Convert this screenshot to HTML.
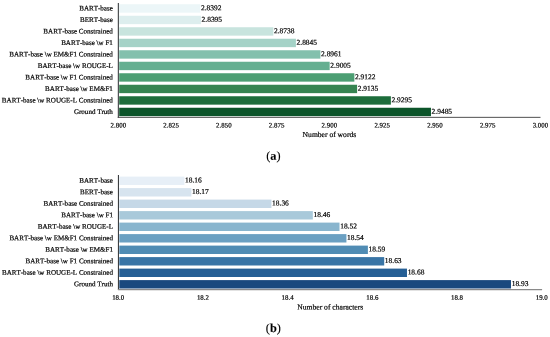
<!DOCTYPE html>
<html><head><meta charset="utf-8"><title>Figure</title>
<style>
html,body{margin:0;padding:0;background:#fff;}
body{width:550px;height:337px;overflow:hidden;}
svg{display:block;}
svg text{font-family:"Liberation Serif","DejaVu Serif",serif;fill:#000000;stroke:#000000;stroke-width:0.2px;text-rendering:geometricPrecision;font-kerning:none;}
svg text.cap{stroke-width:0.1px;}
</style></head>
<body>
<svg width="550" height="337" viewBox="0 0 550 337">
<rect width="550" height="337" fill="#ffffff"/>
<g>
<rect x="119.20" y="4.25" width="81.12" height="8.4" fill="#ecf6f8"/>
<rect x="119.20" y="15.75" width="81.75" height="8.4" fill="#ddeeee"/>
<rect x="119.20" y="27.25" width="154.14" height="8.4" fill="#c8e4de"/>
<rect x="119.20" y="38.75" width="176.72" height="8.4" fill="#a5d2c7"/>
<rect x="119.20" y="50.25" width="201.20" height="8.4" fill="#83c0ad"/>
<rect x="119.20" y="61.75" width="210.48" height="8.4" fill="#65af91"/>
<rect x="119.20" y="73.25" width="235.17" height="8.4" fill="#4c9e73"/>
<rect x="119.20" y="84.75" width="237.91" height="8.4" fill="#358451"/>
<rect x="119.20" y="96.25" width="271.68" height="8.4" fill="#1d6d3b"/>
<rect x="119.20" y="107.75" width="311.77" height="8.4" fill="#0c552a"/>
</g>
<g text-anchor="end" font-size="7.05">
<text transform="matrix(1 0.0005 0 1 112.85 10.50)">BART-base</text>
<text transform="matrix(1 0.0005 0 1 112.85 22.00)">BERT-base</text>
<text transform="matrix(1 0.0005 0 1 112.85 33.50)">BART-base Constrained</text>
<text transform="matrix(1 0.0005 0 1 112.85 45.00)">BART-base \w F1</text>
<text transform="matrix(1 0.0005 0 1 112.85 56.50)">BART-base \w EM&amp;F1 Constrained</text>
<text transform="matrix(1 0.0005 0 1 112.85 68.00)">BART-base \w ROUGE-L</text>
<text transform="matrix(1 0.0005 0 1 112.85 79.50)">BART-base \w F1 Constrained</text>
<text transform="matrix(1 0.0005 0 1 112.85 91.00)">BART-base \w EM&amp;F1</text>
<text transform="matrix(1 0.0005 0 1 112.85 102.50)">BART-base \w ROUGE-L Constrained</text>
<text transform="matrix(1 0.0005 0 1 112.85 114.00)">Ground Truth</text>
</g>
<g font-size="7.45">
<text transform="matrix(1 0.0005 0 1 200.97 10.20)">2.8392</text>
<text transform="matrix(1 0.0005 0 1 201.60 21.70)">2.8395</text>
<text transform="matrix(1 0.0005 0 1 273.99 33.20)">2.8738</text>
<text transform="matrix(1 0.0005 0 1 296.57 44.70)">2.8845</text>
<text transform="matrix(1 0.0005 0 1 321.05 56.20)">2.8961</text>
<text transform="matrix(1 0.0005 0 1 330.33 67.70)">2.9005</text>
<text transform="matrix(1 0.0005 0 1 355.02 79.20)">2.9122</text>
<text transform="matrix(1 0.0005 0 1 357.76 90.70)">2.9135</text>
<text transform="matrix(1 0.0005 0 1 391.53 102.20)">2.9295</text>
<text transform="matrix(1 0.0005 0 1 431.62 113.70)">2.9485</text>
</g>
<line x1="118.35" y1="2.9000000000000004" x2="118.35" y2="117.9" stroke="#3c3f42" stroke-width="1.1"/>
<line x1="117.8" y1="117.35000000000001" x2="540.5" y2="117.35000000000001" stroke="#505050" stroke-width="1.0"/>
<g text-anchor="middle" font-size="6.9">
<text transform="matrix(1 0.0005 0 1 118.35 127.55)">2.800</text>
<text transform="matrix(1 0.0005 0 1 171.11 127.55)">2.825</text>
<text transform="matrix(1 0.0005 0 1 223.86 127.55)">2.850</text>
<text transform="matrix(1 0.0005 0 1 276.62 127.55)">2.875</text>
<text transform="matrix(1 0.0005 0 1 329.37 127.55)">2.900</text>
<text transform="matrix(1 0.0005 0 1 382.13 127.55)">2.925</text>
<text transform="matrix(1 0.0005 0 1 434.89 127.55)">2.950</text>
<text transform="matrix(1 0.0005 0 1 487.64 127.55)">2.975</text>
<text transform="matrix(1 0.0005 0 1 540.40 127.55)">3.000</text>
</g>
<text transform="matrix(1 0.0005 0 1 329.38 136.90)" text-anchor="middle" font-size="7.6">Number of words</text>
<text transform="matrix(1 0.0005 0 1 273.4 159.85)" text-anchor="middle" font-size="12.3" class="cap">(<tspan font-weight="bold">a</tspan>)</text>
<g>
<rect x="119.30" y="176.60" width="65.11" height="8.4" fill="#e7eff7"/>
<rect x="119.30" y="188.10" width="72.10" height="8.4" fill="#d7e4ef"/>
<rect x="119.30" y="199.60" width="152.15" height="8.4" fill="#c5d8e7"/>
<rect x="119.30" y="211.10" width="193.53" height="8.4" fill="#a9c9da"/>
<rect x="119.30" y="222.60" width="220.21" height="8.4" fill="#89b5ce"/>
<rect x="119.30" y="234.10" width="227.12" height="8.4" fill="#6ba0c2"/>
<rect x="119.30" y="245.60" width="248.59" height="8.4" fill="#508cb4"/>
<rect x="119.30" y="257.10" width="264.90" height="8.4" fill="#3975a6"/>
<rect x="119.30" y="268.60" width="287.68" height="8.4" fill="#265f95"/>
<rect x="119.30" y="280.10" width="391.71" height="8.4" fill="#19497e"/>
</g>
<g text-anchor="end" font-size="7.05">
<text transform="matrix(1 0.0005 0 1 112.95 182.85)">BART-base</text>
<text transform="matrix(1 0.0005 0 1 112.95 194.35)">BERT-base</text>
<text transform="matrix(1 0.0005 0 1 112.95 205.85)">BART-base Constrained</text>
<text transform="matrix(1 0.0005 0 1 112.95 217.35)">BART-base \w F1</text>
<text transform="matrix(1 0.0005 0 1 112.95 228.85)">BART-base \w ROUGE-L</text>
<text transform="matrix(1 0.0005 0 1 112.95 240.35)">BART-base \w EM&amp;F1 Constrained</text>
<text transform="matrix(1 0.0005 0 1 112.95 251.85)">BART-base \w EM&amp;F1</text>
<text transform="matrix(1 0.0005 0 1 112.95 263.35)">BART-base \w F1 Constrained</text>
<text transform="matrix(1 0.0005 0 1 112.95 274.85)">BART-base \w ROUGE-L Constrained</text>
<text transform="matrix(1 0.0005 0 1 112.95 286.35)">Ground Truth</text>
</g>
<g font-size="7.45">
<text transform="matrix(1 0.0005 0 1 185.06 182.55)">18.16</text>
<text transform="matrix(1 0.0005 0 1 192.05 194.05)">18.17</text>
<text transform="matrix(1 0.0005 0 1 272.10 205.55)">18.36</text>
<text transform="matrix(1 0.0005 0 1 313.48 217.05)">18.46</text>
<text transform="matrix(1 0.0005 0 1 340.16 228.55)">18.52</text>
<text transform="matrix(1 0.0005 0 1 347.07 240.05)">18.54</text>
<text transform="matrix(1 0.0005 0 1 368.54 251.55)">18.59</text>
<text transform="matrix(1 0.0005 0 1 384.85 263.05)">18.63</text>
<text transform="matrix(1 0.0005 0 1 407.63 274.55)">18.68</text>
<text transform="matrix(1 0.0005 0 1 511.66 286.05)">18.93</text>
</g>
<line x1="118.45" y1="175.0" x2="118.45" y2="290.0" stroke="#3c3f42" stroke-width="1.1"/>
<line x1="117.9" y1="289.6" x2="542.1" y2="289.6" stroke="#8a8a8a" stroke-width="1.4"/>
<g text-anchor="middle" font-size="6.9">
<text transform="matrix(1 0.0005 0 1 118.20 299.65)">18.0</text>
<text transform="matrix(1 0.0005 0 1 202.91 299.65)">18.2</text>
<text transform="matrix(1 0.0005 0 1 287.62 299.65)">18.4</text>
<text transform="matrix(1 0.0005 0 1 372.33 299.65)">18.6</text>
<text transform="matrix(1 0.0005 0 1 457.04 299.65)">18.8</text>
<text transform="matrix(1 0.0005 0 1 541.75 299.65)">19.0</text>
</g>
<text transform="matrix(1 0.0005 0 1 330.23 309.40)" text-anchor="middle" font-size="7.6">Number of characters</text>
<text transform="matrix(1 0.0005 0 1 273.4 332.0)" text-anchor="middle" font-size="12.3" class="cap">(<tspan font-weight="bold">b</tspan>)</text>
</svg>
</body></html>
